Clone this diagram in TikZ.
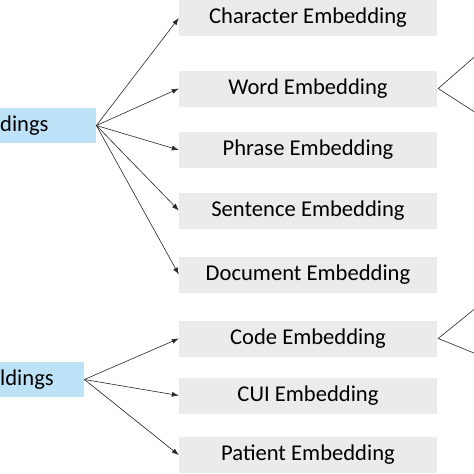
\documentclass[tikz,border=0pt]{standalone}
\usepackage{fontspec}
\setmainfont{Carlito}
\usetikzlibrary{arrows.meta}
\definecolor{boxgray}{RGB}{235,235,235}
\definecolor{boxblue}{RGB}{189,226,248}
\tikzset{
  embbox/.style={fill=boxgray, minimum width=258pt, minimum height=36pt, inner sep=0pt},
  rootbox/.style={fill=boxblue, anchor=west, inner xsep=0pt, inner ysep=0pt, minimum height=35pt, align=left},
  conn/.style={draw=black!85, line width=0.6pt, -{Latex[length=7pt,width=5pt]}},
  branch/.style={draw=black!85, line width=0.6pt}
}
\begin{document}
\begin{tikzpicture}[x=1pt, y=-1pt, font=\fontsize{22.6}{27}\selectfont]
    \clip (0,0) rectangle (474,474);
    \useasboundingbox (0,0) rectangle (474,474);

        % Left roots
        \node[rootbox, text width=96pt] (textroot) at (0,125.5) {dings};
        \node[rootbox, text width=84pt] (medroot) at (0,379.5) {ldings};

        % Embedding boxes
        \node[embbox] (charemb) at (308,18) {Character Embedding};
        \node[embbox] (wordemb) at (308,88.5) {Word Embedding};
        \node[embbox] (phraseemb) at (308,150) {Phrase Embedding};
        \node[embbox] (sentemb) at (308,210.5) {Sentence Embedding};
        \node[embbox] (docemb) at (308,274.5) {Document Embedding};
        \node[embbox] (codeemb) at (308,338.5) {Code Embedding};
        \node[embbox] (cuiemb) at (308,395.5) {CUI Embedding};
        \node[embbox] (patemb) at (308,455) {Patient Embedding};

        % Arrows from roots
        \foreach \t in {charemb,wordemb,phraseemb,sentemb,docemb}
            \draw[conn] (textroot.east) -- (\t.west);
        \foreach \t in {codeemb,cuiemb,patemb}
            \draw[conn] (medroot.east) -- (\t.west);

        % Branches leaving the picture
        \coordinate (wordup) at (490,43.4);
        \coordinate (worddown) at (490,122);
        \coordinate (codeup) at (490,296.5);
        \coordinate (codedown) at (490,359.5);
        \draw[branch] (wordup) -- ([xshift=1pt]wordemb.east) -- (worddown);
        \draw[branch] (codeup) -- ([xshift=1pt]codeemb.east) -- (codedown);

\end{tikzpicture}
\end{document}
